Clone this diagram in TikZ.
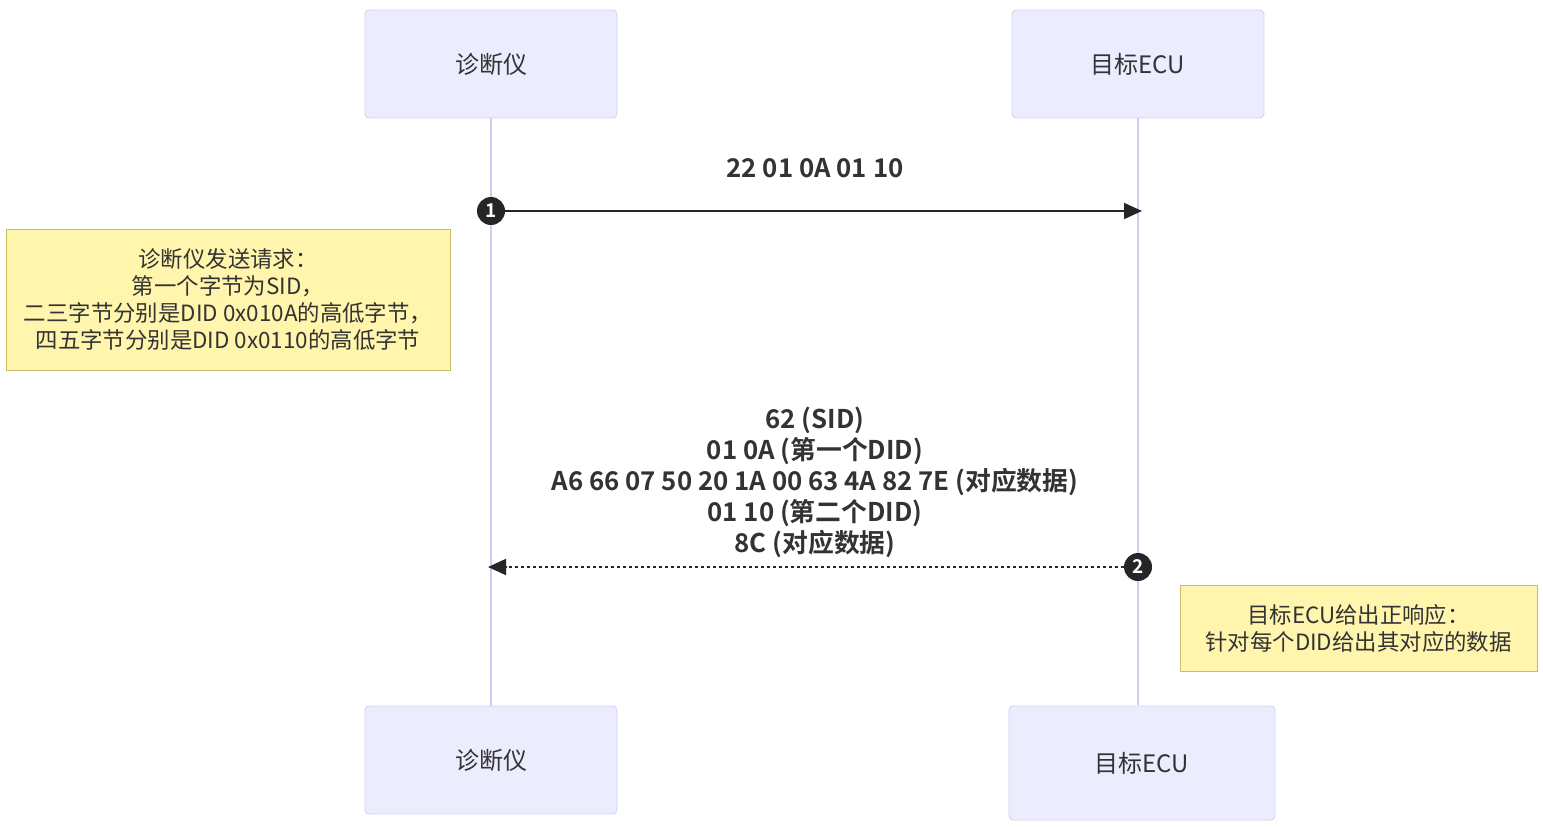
\documentclass[tikz,border=0pt]{standalone}
\usepackage{fontspec}
\setmainfont{Noto Sans CJK SC}[BoldFont={Noto Sans CJK SC Bold}]
\usetikzlibrary{positioning,calc,arrows.meta}
\definecolor{actorfill}{HTML}{ECECFF}
\definecolor{actorline}{HTML}{D4D0F2}
\definecolor{lifeline}{HTML}{CFCDEE}
\definecolor{notefill}{HTML}{FFF5AD}
\definecolor{noteline}{HTML}{C8C060}
\definecolor{txt}{HTML}{333333}

\begin{document}
\begin{tikzpicture}[x=0.5pt,y=-0.5pt,
	actor/.style={draw=actorline, fill=actorfill, rounded corners=2pt, minimum width=126pt, minimum height=54pt, text=txt, font=\fontsize{12}{14}\selectfont},
	note/.style={draw=noteline, fill=notefill, align=center, text=txt, inner sep=0pt, font=\fontsize{11.2}{13.5}\selectfont},
	msg/.style={align=center, text=txt, font=\bfseries\fontsize{12.9}{15.5}\selectfont},
	num/.style={circle, fill=black!85, text=white, inner sep=0pt, minimum size=14pt, font=\bfseries\fontsize{9.5}{9.5}\selectfont},
	life/.style={draw=lifeline, line width=1.2pt},
	req/.style={-{Triangle[length=9pt,width=8pt]}, line width=0.9pt, black!85},
	resp/.style={-{Triangle[length=9pt,width=8pt]}, line width=0.9pt, black!85, dash pattern=on 1.5pt off 1.5pt},
	]
	\useasboundingbox (0,0) rectangle (1543,829);
	
	% actors
	\node[actor] (tester) at (491,64) {诊断仪};
	\node[actor] (ecu) at (1138,64) {目标ECU};
	\node[actor] (testerb) at (491,760) {诊断仪};
	\node[actor, minimum width=133pt, minimum height=57pt] (ecub) at (1142,763) {目标ECU};
	
	% lifelines
	\coordinate (ecuend) at (1138,705);
	\draw[life] (tester.south) -- (testerb.north);
	\draw[life] (ecu.south) -- (ecuend);
	
	% notes
	\node[note, minimum width=222pt, minimum height=70.5pt] (note1) at (228,299.5) {诊断仪发送请求：\\第一个字节为SID，\\二三字节分别是DID 0x010A的高低字节，\\四五字节分别是DID 0x0110的高低字节};
	\node[note, minimum width=178.5pt, minimum height=43pt] (note2) at (1358.5,628) {目标ECU给出正响应：\\针对每个DID给出其对应的数据};
	
	% request
	\node[num] (n1) at (491,211) {1};
	\coordinate (reqend) at (1142,211);
	\draw[req] (n1) -- (reqend);
	\node[msg] (reqlabel) at (815,168) {22 01 0A 01 10};
	
	% response
	\node[num] (n2) at (1138,567) {2};
	\coordinate (respend) at (488,567);
	\draw[resp] (n2) -- (respend);
	\node[msg] (resplabel) at (815,482) {62 (SID)\\01 0A (第一个DID)\\A6 66 07 50 20 1A 00 63 4A 82 7E (对应数据)\\01 10 (第二个DID)\\8C (对应数据)};
\end{tikzpicture}
\end{document}
